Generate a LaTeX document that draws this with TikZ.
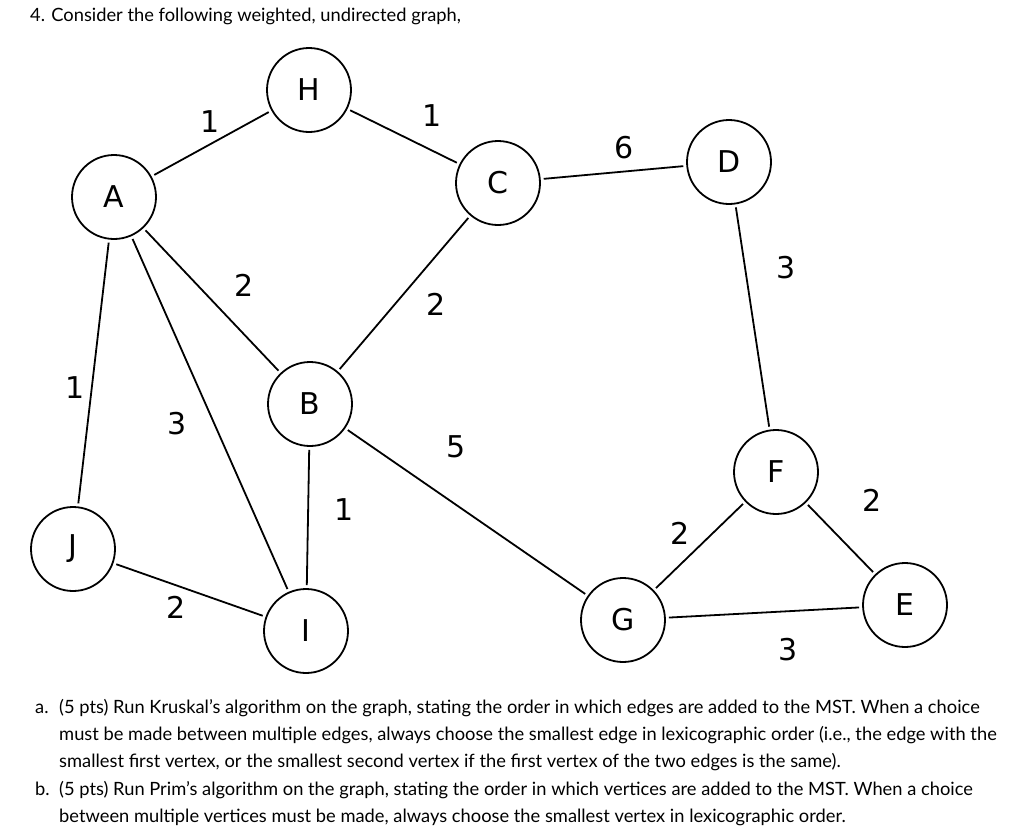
\documentclass[tikz,border=0pt]{standalone}
\usepackage{fontspec}
\setmainfont{Lato}
\newfontfamily\dvs{DejaVu Sans}
\begin{document}
\begin{tikzpicture}[x=1pt,y=-1pt,
  vtx/.style={circle,draw,line width=1.8pt,minimum size=84pt,inner sep=0pt,font=\dvs\fontsize{30}{30}\selectfont,fill=white},
  edg/.style={line width=1.8pt,shorten >=3pt,shorten <=3pt},
  wt/.style={font=\dvs\fontsize{30}{30}\selectfont},
  txt/.style={anchor=base west,font=\fontsize{18.3}{20}\selectfont,inner sep=0pt}]
\useasboundingbox (0,0) rectangle (1024,835);
\node[vtx] (H) at (309,90) {H};
\node[vtx] (A) at (114,197) {A};
\node[vtx] (C) at (498,183) {C};
\node[vtx] (D) at (729,162) {D};
\node[vtx] (B) at (310,404) {B};
\node[vtx] (F) at (776,472) {F};
\node[vtx] (J) at (73,549) {J};
\node[vtx] (I) at (306,631) {I};
\node[vtx] (G) at (623,620) {G};
\node[vtx] (E) at (905,605) {E};
\draw[edg] (A) -- (H);
\draw[edg] (H) -- (C);
\draw[edg] (C) -- (D);
\draw[edg] (D) -- (F);
\draw[edg] (A) -- (B);
\draw[edg] (C) -- (B);
\draw[edg] (A) -- (J);
\draw[edg] (A) -- (I);
\draw[edg] (B) -- (I);
\draw[edg] (B) -- (G);
\draw[edg] (J) -- (I);
\draw[edg] (G) -- (F);
\draw[edg] (F) -- (E);
\draw[edg] (G) -- (E);
\node[wt] (w1) at (210,122) {1};
\node[wt] (w2) at (432,116) {1};
\node[wt] (w3) at (624,148) {6};
\node[wt] (w4) at (786,268) {3};
\node[wt] (w5) at (244,285) {2};
\node[wt] (w6) at (436,304) {2};
\node[wt] (w7) at (75,388) {1};
\node[wt] (w8) at (177,424) {3};
\node[wt] (w9) at (344,510) {1};
\node[wt] (w10) at (456,447) {5};
\node[wt] (w11) at (176,607) {2};
\node[wt] (w12) at (680,533) {2};
\node[wt] (w13) at (872,500) {2};
\node[wt] (w14) at (788,650) {3};
\node[txt] (t0) at (30,21) {4. Consider the following weighted, undirected graph,};
\node[txt] (t1) at (35,713) {a.};
\node[txt] (t2) at (59,713) {(5 pts) Run Kruskal's algorithm on the graph, stating the order in which edges are added to the MST. When a choice};
\node[txt] (t3) at (59,740) {must be made between multiple edges, always choose the smallest edge in lexicographic order (i.e., the edge with the};
\node[txt] (t4) at (59,767) {smallest first vertex, or the smallest second vertex if the first vertex of the two edges is the same).};
\node[txt] (t5) at (35,795) {b.};
\node[txt] (t6) at (59,795) {(5 pts) Run Prim's algorithm on the graph, stating the order in which vertices are added to the MST. When a choice};
\node[txt] (t7) at (59,822) {between multiple vertices must be made, always choose the smallest vertex in lexicographic order.};
\end{tikzpicture}
\end{document}
